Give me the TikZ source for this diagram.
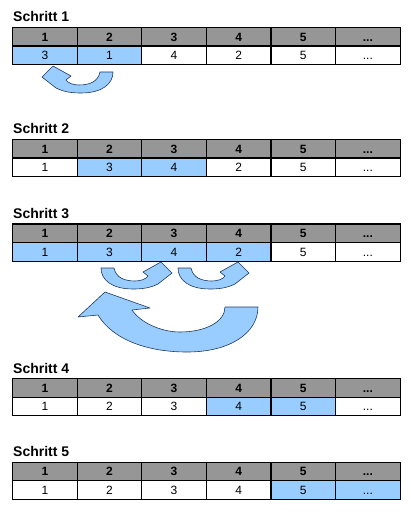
\documentclass[tikz,border=0pt]{standalone}
\usepackage{fontspec}
\setmainfont{Liberation Sans}
\usepackage{tikz}
\definecolor{kopfgrau}{HTML}{969696}
\definecolor{hell}{HTML}{99CCFF}
\definecolor{rand}{HTML}{1F3A60}
\tikzset{
  titel/.style={font=\fontsize{14}{16}\selectfont\bfseries, inner sep=0pt, anchor=base west},
  zelle/.style={draw=black, line width=1.1pt, minimum width=64.6pt, minimum height=18.5pt,
    inner sep=0pt, anchor=north west, text height=8.6pt, text depth=0pt},
  kopf/.style={zelle, fill=kopfgrau, font=\fontsize{12}{14}\selectfont\bfseries},
  wert/.style={zelle, font=\fontsize{12}{14}\selectfont},
  pfeil/.style={fill=hell, draw=rand, line width=0.6pt, line join=round},
  bogen/.pic={
    \filldraw[pfeil] (0,0) -- (13,0) .. controls (15,10) and (24,13) .. (34,13)
      .. controls (40,13) and (45,11) .. (47,8) -- (42,4) -- (60,-6) -- (71,5) -- (57,16)
      .. controls (49,20) and (41,21) .. (32,21) .. controls (11,21) and (0,12) .. (0,0) -- cycle;
  }
}
\newcommand{\drei}{...}
% #1 Schritt, #2 oberer Rand, #3 Werte als Spalte/Wert/Farbe
\newcommand{\schritt}[3]{
  \node[titel] (t#1) at (13,#2-5) {Schritt #1};
  \foreach \k/\h in {1/1,2/2,3/3,4/4,5/5,6/\drei}
    \node[kopf] (s#1k\k) at ({12+(\k-1)*64.6},#2) {\h};
  \foreach \k/\v/\f in {#3}
    \node[wert, fill=\f] (s#1w\k) at ({12+(\k-1)*64.6},#2+18.5) {\v};
}

\begin{document}
\begin{tikzpicture}[x=1pt, y=-1pt]
  \useasboundingbox (0,0) rectangle (410,518);
  \schritt{1}{27}{1/3/hell,2/1/hell,3/4/white,4/2/white,5/5/white,6/\drei/white}
  \schritt{2}{139}{1/1/white,2/3/hell,3/4/hell,4/2/white,5/5/white,6/\drei/white}
  \schritt{3}{223.5}{1/1/hell,2/3/hell,3/4/hell,4/2/hell,5/5/white,6/\drei/white}
  \schritt{4}{378}{1/1/white,2/2/white,3/3/white,4/4/hell,5/5/hell,6/\drei/white}
  \schritt{5}{461.5}{1/1/white,2/2/white,3/3/white,4/4/white,5/5/hell,6/\drei/hell}

  % Tauschpfeile
  \pic[xscale=-1] at (113,72) {bogen};
  \pic at (101,268) {bogen};
  \pic at (178,268) {bogen};
  \filldraw[pfeil] (258,307) -- (225,307) .. controls (225,322) and (205,332) .. (180,332)
    .. controls (160,332) and (140,322) .. (132,310) -- (150,308) -- (105,292) -- (78,317) -- (98,315)
    .. controls (113,340) and (148,352) .. (187,352) .. controls (230,352) and (258,333) .. (258,307) -- cycle;
\end{tikzpicture}
\end{document}
